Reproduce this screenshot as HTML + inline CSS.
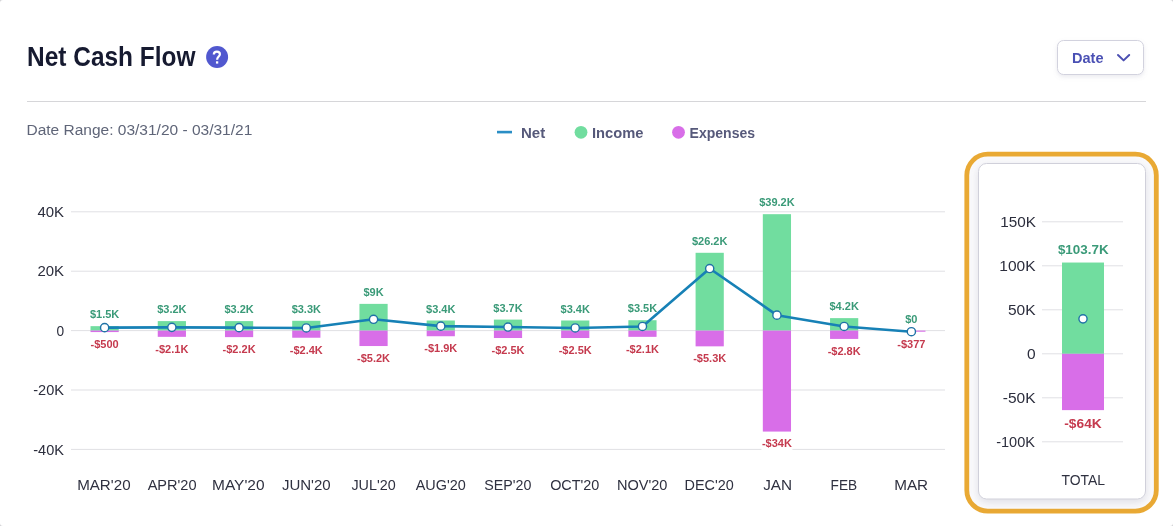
<!DOCTYPE html>
<html><head><meta charset="utf-8"><style>
html,body{margin:0;padding:0;background:#d2d2d6;}
body{width:1173px;height:526px;overflow:hidden;position:relative;}
.card{position:absolute;left:0;top:0;width:1173px;height:526px;background:#fff;border-radius:3px;}
svg{position:absolute;left:0;top:0;will-change:transform;}
text{font-family:"Liberation Sans",sans-serif;}
.ax{font-size:15.5px;fill:#2c2e3d;}
.xl{font-size:15.5px;fill:#2f3140;}
.lg{font-size:11px;font-weight:700;fill:#3a9a78;}
.lr{font-size:11px;font-weight:700;fill:#c53a4e;}
.lgd{font-size:15px;font-weight:700;fill:#56597a;}
</style></head><body><div class="card"></div>
<svg width="1173" height="526" viewBox="0 0 1173 526">
<defs>
<filter id="sh" x="-20%" y="-20%" width="140%" height="140%"><feDropShadow dx="0" dy="2" stdDeviation="2" flood-color="#8a8aa8" flood-opacity="0.18"/></filter>
<filter id="sh2" x="-20%" y="-20%" width="140%" height="140%"><feDropShadow dx="0" dy="3" stdDeviation="4" flood-color="#70708a" flood-opacity="0.2"/></filter>
</defs>
<text id="title" x="27.12" y="66.00" style="font-size:27.5px;font-weight:700;fill:#161a30" textLength="168.31" lengthAdjust="spacingAndGlyphs">Net Cash Flow</text><circle cx="217.1" cy="57" r="11" fill="#5158cf"/><path d="M213.8 54.6 C213.8 52.6 215.2 51.7 216.9 51.7 C218.7 51.7 219.9 52.8 219.9 54.3 C219.9 56.5 217.1 56.7 217.1 59.7" fill="none" stroke="#fff" stroke-width="2.2"/><rect x="215.95" y="61.3" width="2.3" height="2.3" fill="#fff"/><rect x="1057.5" y="40.5" width="86" height="34" rx="6" fill="#fff" stroke="#d2d2de" filter="url(#sh)"/><text id="date" x="1072.01" y="62.70" style="font-size:15px;font-weight:700;fill:#4a50b4" textLength="31.50" lengthAdjust="spacingAndGlyphs">Date</text><path d="M1118 55 L1123.6 60.4 L1129.2 55" fill="none" stroke="#4c50b2" stroke-width="2" stroke-linecap="round" stroke-linejoin="round"/><rect x="27" y="101" width="1119" height="1" fill="#d6d6d9"/><text id="drange" x="26.49" y="135.00" style="font-size:15.5px;fill:#5f6578" textLength="225.79" lengthAdjust="spacingAndGlyphs">Date Range: 03/31/20 - 03/31/21</text><rect x="497" y="130.8" width="15" height="2.6" fill="#2a8ec5"/><text id="lnet" x="520.98" y="137.70" class="lgd" textLength="24.20" lengthAdjust="spacingAndGlyphs">Net</text><circle cx="581" cy="132.3" r="6.4" fill="#71dd9f"/><text id="linc" x="592.00" y="137.70" class="lgd" textLength="51.49" lengthAdjust="spacingAndGlyphs">Income</text><circle cx="678.5" cy="132.3" r="6.4" fill="#d86ee8"/><text id="lexp" x="689.55" y="137.70" class="lgd" textLength="65.49" lengthAdjust="spacingAndGlyphs">Expenses</text>
<rect x="71" y="211.30" width="874" height="1" fill="#e0e0e4"/><text id="y40" x="37.38" y="217.00" class="ax" textLength="26.62" lengthAdjust="spacingAndGlyphs">40K</text><rect x="71" y="270.70" width="874" height="1" fill="#e0e0e4"/><text id="y20" x="37.41" y="276.40" class="ax" textLength="26.59" lengthAdjust="spacingAndGlyphs">20K</text><rect x="71" y="330.10" width="874" height="1" fill="#e0e0e4"/><text id="y0" x="56.42" y="335.80" class="ax" textLength="7.63" lengthAdjust="spacingAndGlyphs">0</text><rect x="71" y="389.50" width="874" height="1" fill="#e0e0e4"/><text id="ym20" x="33.28" y="395.20" class="ax" textLength="30.72" lengthAdjust="spacingAndGlyphs">-20K</text><rect x="71" y="448.90" width="874" height="1" fill="#e0e0e4"/><text id="ym40" x="33.28" y="454.60" class="ax" textLength="30.72" lengthAdjust="spacingAndGlyphs">-40K</text><rect x="90.52" y="326.15" width="28.2" height="4.46" fill="#71dd9f"/><rect x="90.52" y="330.60" width="28.2" height="1.48" fill="#d86ee8"/><rect x="157.75" y="321.10" width="28.2" height="9.50" fill="#71dd9f"/><rect x="157.75" y="330.60" width="28.2" height="6.24" fill="#d86ee8"/><rect x="224.98" y="321.10" width="28.2" height="9.50" fill="#71dd9f"/><rect x="224.98" y="330.60" width="28.2" height="6.53" fill="#d86ee8"/><rect x="292.21" y="320.80" width="28.2" height="9.80" fill="#71dd9f"/><rect x="292.21" y="330.60" width="28.2" height="7.13" fill="#d86ee8"/><rect x="359.44" y="303.87" width="28.2" height="26.73" fill="#71dd9f"/><rect x="359.44" y="330.60" width="28.2" height="15.44" fill="#d86ee8"/><rect x="426.67" y="320.50" width="28.2" height="10.10" fill="#71dd9f"/><rect x="426.67" y="330.60" width="28.2" height="5.64" fill="#d86ee8"/><rect x="493.90" y="319.61" width="28.2" height="10.99" fill="#71dd9f"/><rect x="493.90" y="330.60" width="28.2" height="7.42" fill="#d86ee8"/><rect x="561.13" y="320.50" width="28.2" height="10.10" fill="#71dd9f"/><rect x="561.13" y="330.60" width="28.2" height="7.42" fill="#d86ee8"/><rect x="628.36" y="320.21" width="28.2" height="10.39" fill="#71dd9f"/><rect x="628.36" y="330.60" width="28.2" height="6.24" fill="#d86ee8"/><rect x="695.59" y="252.79" width="28.2" height="77.81" fill="#71dd9f"/><rect x="695.59" y="330.60" width="28.2" height="15.74" fill="#d86ee8"/><rect x="762.82" y="214.18" width="28.2" height="116.42" fill="#71dd9f"/><rect x="762.82" y="330.60" width="28.2" height="100.98" fill="#d86ee8"/><rect x="830.05" y="318.13" width="28.2" height="12.47" fill="#71dd9f"/><rect x="830.05" y="330.60" width="28.2" height="8.32" fill="#d86ee8"/><rect x="897.28" y="330.60" width="28.2" height="1.12" fill="#d86ee8"/><text id="li0" x="104.62" y="318.35" text-anchor="middle" class="lg">&#36;1.5K</text><text id="le0" x="104.62" y="347.89" text-anchor="middle" class="lr">-&#36;500</text><text id="xl0" x="77.15" y="489.80" class="xl" textLength="53.44" lengthAdjust="spacingAndGlyphs">MAR&#39;20</text><text id="li1" x="171.85" y="313.30" text-anchor="middle" class="lg">&#36;3.2K</text><text id="le1" x="171.85" y="352.64" text-anchor="middle" class="lr">-&#36;2.1K</text><text id="xl1" x="147.67" y="489.80" class="xl" textLength="48.90" lengthAdjust="spacingAndGlyphs">APR&#39;20</text><text id="li2" x="239.08" y="313.30" text-anchor="middle" class="lg">&#36;3.2K</text><text id="le2" x="239.08" y="352.93" text-anchor="middle" class="lr">-&#36;2.2K</text><text id="xl2" x="212.07" y="489.80" class="xl" textLength="52.49" lengthAdjust="spacingAndGlyphs">MAY&#39;20</text><text id="li3" x="306.31" y="313.00" text-anchor="middle" class="lg">&#36;3.3K</text><text id="le3" x="306.31" y="353.53" text-anchor="middle" class="lr">-&#36;2.4K</text><text id="xl3" x="281.95" y="489.80" class="xl" textLength="48.73" lengthAdjust="spacingAndGlyphs">JUN&#39;20</text><text id="li4" x="373.54" y="296.07" text-anchor="middle" class="lg">&#36;9K</text><text id="le4" x="373.54" y="361.84" text-anchor="middle" class="lr">-&#36;5.2K</text><text id="xl4" x="351.46" y="489.80" class="xl" textLength="44.17" lengthAdjust="spacingAndGlyphs">JUL&#39;20</text><text id="li5" x="440.77" y="312.70" text-anchor="middle" class="lg">&#36;3.4K</text><text id="le5" x="440.77" y="352.04" text-anchor="middle" class="lr">-&#36;1.9K</text><text id="xl5" x="415.75" y="489.80" class="xl" textLength="50.08" lengthAdjust="spacingAndGlyphs">AUG&#39;20</text><text id="li6" x="508.00" y="311.81" text-anchor="middle" class="lg">&#36;3.7K</text><text id="le6" x="508.00" y="353.83" text-anchor="middle" class="lr">-&#36;2.5K</text><text id="xl6" x="484.25" y="489.80" class="xl" textLength="47.05" lengthAdjust="spacingAndGlyphs">SEP&#39;20</text><text id="li7" x="575.23" y="312.70" text-anchor="middle" class="lg">&#36;3.4K</text><text id="le7" x="575.23" y="353.83" text-anchor="middle" class="lr">-&#36;2.5K</text><text id="xl7" x="550.14" y="489.80" class="xl" textLength="49.23" lengthAdjust="spacingAndGlyphs">OCT&#39;20</text><text id="li8" x="642.46" y="312.41" text-anchor="middle" class="lg">&#36;3.5K</text><text id="le8" x="642.46" y="352.64" text-anchor="middle" class="lr">-&#36;2.1K</text><text id="xl8" x="616.95" y="489.80" class="xl" textLength="50.54" lengthAdjust="spacingAndGlyphs">NOV&#39;20</text><text id="li9" x="709.69" y="244.99" text-anchor="middle" class="lg">&#36;26.2K</text><text id="le9" x="709.69" y="362.14" text-anchor="middle" class="lr">-&#36;5.3K</text><text id="xl9" x="684.60" y="489.80" class="xl" textLength="49.20" lengthAdjust="spacingAndGlyphs">DEC&#39;20</text><text id="li10" x="776.92" y="206.38" text-anchor="middle" class="lg">&#36;39.2K</text><rect x="761.42" y="435.58" width="31" height="16" fill="#fff"/><text id="le10" x="776.92" y="447.38" text-anchor="middle" class="lr">-&#36;34K</text><text id="xl10" x="763.23" y="489.80" class="xl" textLength="28.90" lengthAdjust="spacingAndGlyphs">JAN</text><text id="li11" x="844.15" y="310.33" text-anchor="middle" class="lg">&#36;4.2K</text><text id="le11" x="844.15" y="354.72" text-anchor="middle" class="lr">-&#36;2.8K</text><text id="xl11" x="830.60" y="489.80" class="xl" textLength="26.59" lengthAdjust="spacingAndGlyphs">FEB</text><text id="li12" x="911.38" y="322.80" text-anchor="middle" class="lg">&#36;0</text><text id="le12" x="911.38" y="347.52" text-anchor="middle" class="lr">-&#36;377</text><text id="xl12" x="894.18" y="489.80" class="xl" textLength="33.90" lengthAdjust="spacingAndGlyphs">MAR</text><polyline points="104.62,327.63 171.85,327.33 239.08,327.63 306.31,327.93 373.54,319.31 440.77,326.15 508.00,327.04 575.23,327.93 642.46,326.44 709.69,268.53 776.92,315.16 844.15,326.44 911.38,331.72" fill="none" stroke="#1781b6" stroke-width="2.6" stroke-linejoin="round"/><circle cx="104.62" cy="327.63" r="4.1" fill="#fff" stroke="#1f72a6" stroke-width="1.4"/><circle cx="171.85" cy="327.33" r="4.1" fill="#fff" stroke="#1f72a6" stroke-width="1.4"/><circle cx="239.08" cy="327.63" r="4.1" fill="#fff" stroke="#1f72a6" stroke-width="1.4"/><circle cx="306.31" cy="327.93" r="4.1" fill="#fff" stroke="#1f72a6" stroke-width="1.4"/><circle cx="373.54" cy="319.31" r="4.1" fill="#fff" stroke="#1f72a6" stroke-width="1.4"/><circle cx="440.77" cy="326.15" r="4.1" fill="#fff" stroke="#1f72a6" stroke-width="1.4"/><circle cx="508.00" cy="327.04" r="4.1" fill="#fff" stroke="#1f72a6" stroke-width="1.4"/><circle cx="575.23" cy="327.93" r="4.1" fill="#fff" stroke="#1f72a6" stroke-width="1.4"/><circle cx="642.46" cy="326.44" r="4.1" fill="#fff" stroke="#1f72a6" stroke-width="1.4"/><circle cx="709.69" cy="268.53" r="4.1" fill="#fff" stroke="#1f72a6" stroke-width="1.4"/><circle cx="776.92" cy="315.16" r="4.1" fill="#fff" stroke="#1f72a6" stroke-width="1.4"/><circle cx="844.15" cy="326.44" r="4.1" fill="#fff" stroke="#1f72a6" stroke-width="1.4"/><circle cx="911.38" cy="331.72" r="4.1" fill="#fff" stroke="#1f72a6" stroke-width="1.4"/>
<rect x="966.8" y="154.2" width="189.5" height="357" rx="21" fill="#fafafc" stroke="#e9a934" stroke-width="4.8"/>
<rect x="978.5" y="163.5" width="167" height="335.5" rx="8" fill="#fff" stroke="#d0d0da" stroke-width="1" filter="url(#sh2)"/>
<rect x="1042" y="221.30" width="81" height="1" fill="#e0e0e4"/><text id="t150" x="1000.30" y="227.00" class="ax" textLength="35.70" lengthAdjust="spacingAndGlyphs">150K</text><rect x="1042" y="265.30" width="81" height="1" fill="#e0e0e4"/><text id="t100" x="1035.50" y="271.00" text-anchor="end" class="ax">100K</text><rect x="1042" y="309.30" width="81" height="1" fill="#e0e0e4"/><text id="t50" x="1035.50" y="315.00" text-anchor="end" class="ax">50K</text><rect x="1042" y="353.30" width="81" height="1" fill="#e0e0e4"/><text id="t0" x="1035.50" y="359.00" text-anchor="end" class="ax">0</text><rect x="1042" y="397.30" width="81" height="1" fill="#e0e0e4"/><text id="tm50" x="1035.50" y="403.00" text-anchor="end" class="ax">-50K</text><rect x="1042" y="441.30" width="81" height="1" fill="#e0e0e4"/><text id="tm100" x="996.15" y="447.00" class="ax" textLength="38.81" lengthAdjust="spacingAndGlyphs">-100K</text><rect x="1062" y="262.54" width="42" height="91.26" fill="#71dd9f"/><rect x="1062" y="353.80" width="42" height="56.32" fill="#d86ee8"/><text id="tinc" x="1057.90" y="253.60" class="lg" style="font-size:13px" textLength="50.68" lengthAdjust="spacingAndGlyphs">&#36;103.7K</text><text id="texp" x="1064.28" y="428.00" class="lr" style="font-size:13px" textLength="37.47" lengthAdjust="spacingAndGlyphs">-&#36;64K</text><text id="ttot" x="1061.46" y="485.00" class="xl" textLength="43.61" lengthAdjust="spacingAndGlyphs">TOTAL</text><circle cx="1083" cy="318.86" r="4.1" fill="#fff" stroke="#1f72a6" stroke-width="1.4"/>
</svg>
</body></html>
